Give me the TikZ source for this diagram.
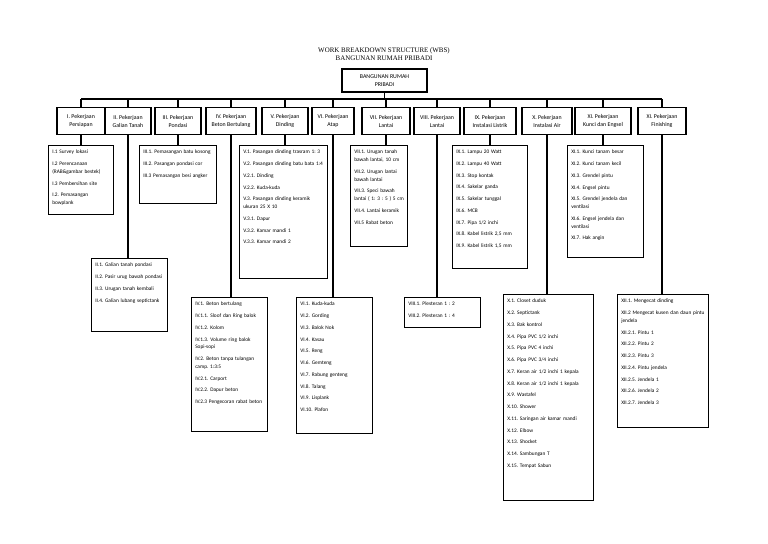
\documentclass[tikz,border=0pt]{standalone}
\usepackage{fontspec}
\setmainfont{Carlito}
\newfontfamily\titlefont{Liberation Serif}
\frenchspacing
\hyphenpenalty=10000\relax
\exhyphenpenalty=10000\relax
\begin{document}
\begin{tikzpicture}[x=0.75pt,y=-0.75pt,
  box/.style={draw,line width=0.8pt,fill=white},
  lvl/.style={box,minimum height=27*0.75pt,inner sep=1pt,align=center,font=\fontsize{4.4}{6}\selectfont},
  lst/.style={anchor=north west,inner sep=0pt,align=left,font=\fontsize{4}{5.8}\selectfont},
  ln/.style={line width=0.8pt}]
\useasboundingbox (0,0) rectangle (768,543);
\node[font=\titlefont\fontsize{5.2}{6.3}\selectfont,align=center] (title) at (384,54) {WORK BREAKDOWN STRUCTURE (WBS)\\BANGUNAN RUMAH PRIBADI};
\node[lvl,minimum width=85*0.75pt,minimum height=23*0.75pt] (root) at (384.5,80.5) {BANGUNAN RUMAH\\PRIBADI};
\coordinate (bl) at (81,99);
\coordinate (br) at (662,99);
\draw[ln] (bl) -- (br);
\draw[ln] (root.south) -- (root.south|-bl);
% level-1
\foreach \n/\x/\w/\t in {a/81/48/{I. Pekerjaan\\Persiapan},b/128/46/{II. Pekerjaan\\Galian Tanah},c/178/46/{III. Pekerjaan\\Pondasi},d/231/50/{IV. Pekerjaan\\Beton Bertulang},e/285/46/{V. Pekerjaan\\Dinding},f/333/42/{VI. Pekerjaan\\Atap},g/386/48/{VII. Pekerjaan\\Lantai},h/437/46/{VIII. Pekerjaan\\Lantai},i/490/52/{IX. Pekerjaan\\Instalasi Listrik},j/547/50/{X. Pekerjaan\\Instalasi Air},k/603/56/{XI. Pekerjaan\\Kunci dan Engsel},l/662/48/{XI. Pekerjaan\\Finishing}}{
  \node[lvl,minimum width=\w*0.75pt] (\n) at (\x,121) {\t};
  \draw[ln] (\n.north) -- (\n.north|-bl);
}
% child boxes
\newcommand\kid[6]{% name, x1,y1,x2,y2, text
  \node[box,minimum width=(#4-#2)*0.75pt,minimum height=(#5-#3)*0.75pt,anchor=north west,inner sep=0pt] (#1) at (#2,#3) {};
  \node[lst,text width=(#4-#2-7)*0.75pt] at (#2+4,#3+5) {#6};}
\kid{ca}{48}{145}{113}{214}{I.1 Survey lokasi\\[3pt]I.2 Perencanaan (RAB\&gambar bestek)\\[3pt]I.3 Pembersihan site\\[3pt]I.2. Pemasangan bowplank}
\kid{cc}{139}{145}{216}{203}{III.1. Pemasangan batu kosong\\[3pt]III.2. Pasangan pondasi cor\\[3pt]III.3 Pemasangan besi angker}
\kid{cb}{91}{258}{167}{331}{II.1. Galian tanah pondasi\\[3pt]II.2. Pasir urug bawah pondasi\\[3pt]II.3. Urugan tanah kembali\\[3pt]II.4. Galian lubang septictank}
\kid{ce}{239}{145}{327}{278}{V.1. Pasangan dinding trasram 1: 3\\[3pt]V.2. Pasangan dinding batu bata 1:4\\[3pt]V.2.1. Dinding\\[3pt]V.2.2. Kuda-kuda\\[3pt]V.3. Pasangan dinding keramik ukuran 25 X 10\\[3pt]V.3.1. Dapur\\[3pt]V.3.2. Kamar mandi 1\\[3pt]V.3.3. Kamar mandi 2}
\kid{cg}{350}{145}{407}{246}{VII.1. Urugan tanah bawah lantai, 10 cm\\[3pt]VII.2. Urugan lantai bawah lantai\\[3pt]VII.3. Speci bawah lantai ( 1: 3 : 5 ) 5 cm\\[3pt]VII.4. Lantai keramik\\[3pt]VII.5 Rabat beton}
\kid{ci}{452}{145}{527}{268}{IX.1. Lampu 20 Watt\\[3pt]IX.2. Lampu 40 Watt\\[3pt]IX.3. Stop kontak\\[3pt]IX.4. Sakelar ganda\\[3pt]IX.5. Sakelar tunggal\\[3pt]IX.6. MCB\\[3pt]IX.7. Pipa 1/2 inchi\\[3pt]IX.8. Kabel listrik 2,5 mm\\[3pt]IX.9. Kabel listrik 1,5 mm}
\kid{ck}{567}{145}{643}{257}{XI.1. Kunci tanam besar\\[3pt]XI.2. Kunci tanam kecil\\[3pt]XI.3. Grendel pintu\\[3pt]XI.4. Engsel pintu\\[3pt]XI.5. Grendel jendela dan ventilasi\\[3pt]XI.6. Engsel jendela dan ventilasi\\[3pt]XI.7. Hak angin}
\kid{cd}{191}{297}{267}{431}{IV.1. Beton bertulang\\[3pt]IV.1.1. Sloof dan Ring balok\\[3pt]IV.1.2. Kolom\\[3pt]IV.1.3. Volume ring balok Sopi-sopi\\[3pt]IV.2. Beton tanpa tulangan camp. 1:3:5\\[3pt]IV.2.1. Carport\\[3pt]IV.2.2. Dapur beton\\[3pt]IV.2.3 Pengecoran rabat beton}
\kid{cf}{296}{297}{372}{433}{VI.1. Kuda-kuda\\[3pt]VI.2. Gording\\[3pt]VI.3. Balok Nok\\[3pt]VI.4. Kasau\\[3pt]VI.5. Reng\\[3pt]VI.6. Gemteng\\[3pt]VI.7. Rabung genteng\\[3pt]VI.8. Talang\\[3pt]VI.9. Lisplank\\[3pt]VI.10. Plafon}
\kid{ch}{404}{297}{480}{327}{VIII.1. Plesteran 1 : 2\\[3pt]VIII.2. Plesteran 1 : 4}
\kid{cj}{503}{294}{593}{500}{X.1. Closet duduk\\[3pt]X.2. Septictank\\[3pt]X.3. Bak kontrol\\[3pt]X.4. Pipa PVC 1/2 inchi\\[3pt]X.5. Pipa PVC 4 inchi\\[3pt]X.6. Pipa PVC 3/4 inchi\\[3pt]X.7. Keran air 1/2 inchi 1 kepala\\[3pt]X.8. Keran air 1/2 inchi 1 kepala\\[3pt]X.9. Wastafel\\[3pt]X.10. Shower\\[3pt]X.11. Saringan air kamar mandi\\[3pt]X.12. Elbow\\[3pt]X.13. Shocket\\[3pt]X.14. Sambungan T\\[3pt]X.15. Tempat Sabun}
\kid{cl}{617}{294}{708}{427}{XII.1. Mengecat dinding\\[3pt]XII.2 Mengecat kusen dan daun pintu jendela\\[3pt]XII.2.1. Pintu 1\\[3pt]XII.2.2. Pintu 2\\[3pt]XII.2.3. Pintu 3\\[3pt]XII.2.4. Pintu jendela\\[3pt]XII.2.5. Jendela 1\\[3pt]XII.2.6. Jendela 2\\[3pt]XII.2.7. Jendela 3}
\foreach \p/\c in {a/ca,b/cb,c/cc,d/cd,e/ce,f/cf,g/cg,h/ch,i/ci,j/cj,k/ck,l/cl}{
  \draw[ln] (\p.south) -- (\p.south|-\c.north);
}
\end{tikzpicture}
\end{document}
